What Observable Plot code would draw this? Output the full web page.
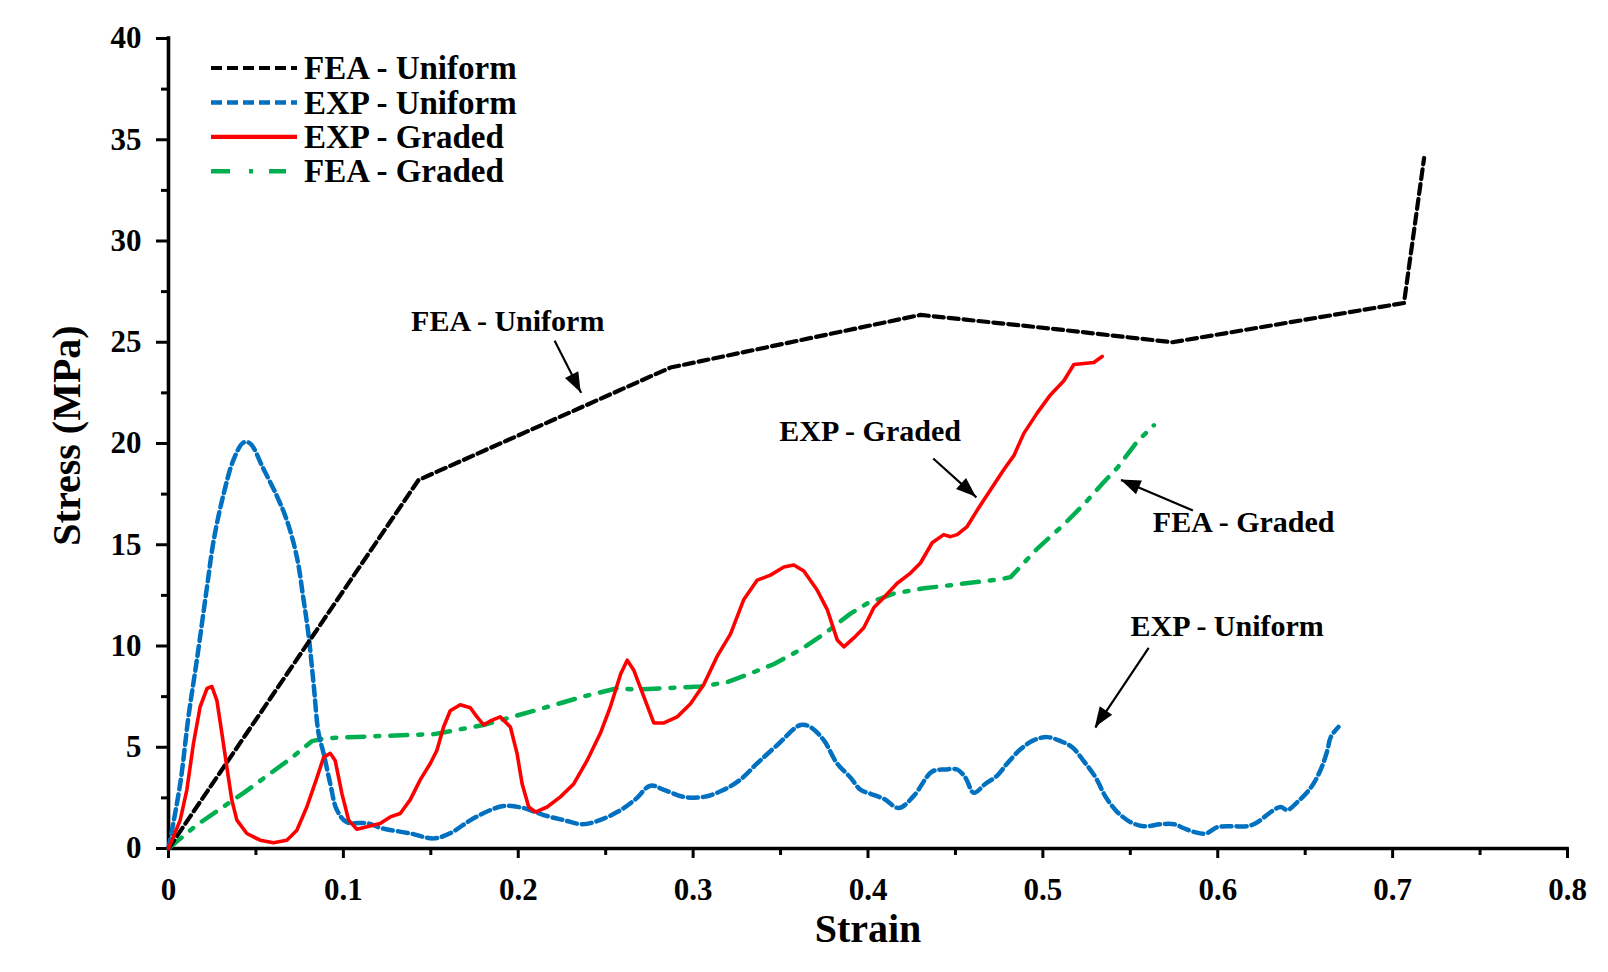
<!DOCTYPE html>
<html>
<head>
<meta charset="utf-8">
<script src="https://cdn.jsdelivr.net/npm/d3@7"></script>
<script src="https://cdn.jsdelivr.net/npm/@observablehq/plot@0.6"></script>
<style>
  html, body { margin: 0; padding: 0; background: #fff; }
  #chart { width: 1608px; height: 972px; }
</style>
</head>
<body>
<div id="chart"></div>
<script>
// ---------- DATA (strain, stress in MPa) ----------
const seriesNames = ["FEA - Uniform", "EXP - Uniform", "EXP - Graded", "FEA - Graded"];

const feaUniform = [
  [0, 0], [0.143, 18.2], [0.287, 23.75], [0.43, 26.35], [0.504, 25.68],
  [0.574, 25.0], [0.7065, 26.94], [0.718, 34.1]
];

const expUniform = [
  [0, 0], [0.0067, 3.2], [0.0114, 6.5], [0.0162, 9.3], [0.022, 12.9], [0.0258, 15.2],
  [0.0315, 17.5], [0.0372, 19.2], [0.0429, 20.05], [0.0467, 20.0], [0.054, 18.8],
  [0.062, 17.4], [0.0677, 16.2], [0.0734, 14.4], [0.0772, 12.3], [0.080, 10.6],
  [0.083, 8.1], [0.0858, 5.7], [0.0887, 4.7], [0.0925, 3.2], [0.0963, 1.9],
  [0.102, 1.3], [0.1135, 1.25], [0.122, 1.0], [0.138, 0.75], [0.1516, 0.5],
  [0.161, 0.75], [0.1727, 1.4], [0.1841, 1.9], [0.1917, 2.1], [0.203, 2.0],
  [0.2145, 1.65], [0.226, 1.4], [0.2366, 1.2], [0.245, 1.35], [0.2566, 1.8],
  [0.2666, 2.4], [0.2756, 3.1], [0.2833, 2.9], [0.2947, 2.55], [0.3061, 2.55],
  [0.3176, 2.9], [0.327, 3.4], [0.3366, 4.2], [0.348, 5.1], [0.3614, 6.1],
  [0.367, 6.0], [0.3747, 5.35], [0.3823, 4.2], [0.39, 3.5], [0.3957, 2.9],
  [0.4015, 2.7], [0.4091, 2.45], [0.4176, 2.0], [0.4262, 2.6], [0.4367, 3.8],
  [0.4443, 3.9], [0.451, 3.9], [0.4557, 3.5], [0.4605, 2.75], [0.4672, 3.2],
  [0.4739, 3.6], [0.4796, 4.2], [0.4872, 4.9], [0.4949, 5.35], [0.5025, 5.5],
  [0.5102, 5.3], [0.5168, 5.0], [0.5235, 4.3], [0.5302, 3.5], [0.5359, 2.55],
  [0.5426, 1.8], [0.5502, 1.3], [0.5578, 1.1], [0.5674, 1.2], [0.575, 1.2],
  [0.5807, 1.0], [0.5864, 0.82], [0.5931, 0.74], [0.5997, 1.05], [0.6074, 1.1],
  [0.6169, 1.1], [0.6227, 1.3], [0.6303, 1.8], [0.636, 2.05], [0.6398, 1.9],
  [0.6456, 2.3], [0.6532, 3.0], [0.6589, 3.9], [0.6627, 4.85], [0.6646, 5.5],
  [0.669, 6.0]
];

const expGraded = [
  [0, 0], [0.0067, 1.4], [0.0105, 2.9], [0.0143, 5.2], [0.0181, 7.0], [0.022, 7.9],
  [0.0248, 8.0], [0.0277, 7.3], [0.0305, 5.7], [0.0334, 4.0], [0.0362, 2.4],
  [0.0391, 1.4], [0.0448, 0.74], [0.0524, 0.41], [0.060, 0.28], [0.0677, 0.41],
  [0.0734, 0.9], [0.0791, 2.05], [0.0849, 3.5], [0.0887, 4.5], [0.0925, 4.7],
  [0.0953, 4.35], [0.0992, 2.7], [0.103, 1.4], [0.1077, 0.95], [0.1135, 1.07],
  [0.121, 1.23], [0.1268, 1.56], [0.1325, 1.73], [0.1382, 2.4], [0.144, 3.4],
  [0.1497, 4.2], [0.1535, 4.85], [0.1573, 6.0], [0.1611, 6.8], [0.1668, 7.1],
  [0.1726, 6.95], [0.1764, 6.5], [0.1802, 6.1], [0.184, 6.3], [0.1897, 6.5],
  [0.1955, 6.0], [0.1993, 4.7], [0.2022, 3.2], [0.206, 2.05], [0.2098, 1.8],
  [0.2165, 2.05], [0.2241, 2.55], [0.2318, 3.2], [0.2394, 4.35], [0.247, 5.7],
  [0.2527, 7.0], [0.2585, 8.6], [0.2623, 9.3], [0.2661, 8.8], [0.2718, 7.5],
  [0.2775, 6.2], [0.2833, 6.2], [0.2909, 6.5], [0.2985, 7.15], [0.3061, 8.1],
  [0.3138, 9.5], [0.3214, 10.6], [0.329, 12.3], [0.3366, 13.25], [0.3442, 13.5],
  [0.3519, 13.9], [0.3576, 14.0], [0.3633, 13.7], [0.371, 12.75], [0.3767, 11.8],
  [0.3824, 10.3], [0.3862, 9.96], [0.3919, 10.4], [0.3976, 10.9], [0.4034, 11.9],
  [0.4091, 12.4], [0.4167, 13.1], [0.4243, 13.6], [0.43, 14.1], [0.4367, 15.1],
  [0.4433, 15.5], [0.4472, 15.4], [0.451, 15.5], [0.4567, 15.9], [0.4624, 16.7],
  [0.47, 17.7], [0.4776, 18.7], [0.4834, 19.4], [0.4891, 20.5], [0.4967, 21.5],
  [0.5043, 22.4], [0.512, 23.1], [0.5177, 23.9], [0.5234, 23.95], [0.5291, 24.0],
  [0.5339, 24.3]
];

const feaGraded = [
  [0, 0], [0.016, 1.15], [0.043, 2.75], [0.07, 4.45], [0.082, 5.3], [0.09, 5.45],
  [0.12, 5.55], [0.152, 5.65], [0.18, 6.1], [0.209, 6.8], [0.237, 7.5], [0.256, 7.9],
  [0.268, 7.85], [0.304, 8.0], [0.319, 8.2], [0.333, 8.65], [0.346, 9.1], [0.361, 9.8],
  [0.375, 10.6], [0.39, 11.6], [0.3995, 12.1], [0.415, 12.6], [0.432, 12.85],
  [0.447, 13.0], [0.476, 13.3], [0.4815, 13.4], [0.4891, 14.1], [0.4967, 14.8],
  [0.512, 16.0], [0.5235, 17.0], [0.5349, 18.1], [0.5426, 18.8], [0.554, 20.1],
  [0.5635, 20.9]
];

const xTicks = [0, 0.1, 0.2, 0.3, 0.4, 0.5, 0.6, 0.7, 0.8];
const xMinorTicks = [0.05, 0.15, 0.25, 0.35, 0.45, 0.55, 0.65, 0.75];
const yTicks = [0, 5, 10, 15, 20, 25, 30, 35, 40];
const yMinorTicks = [2.5, 7.5, 12.5, 17.5, 22.5, 27.5, 32.5, 37.5];

const annotations = [
  { text: "FEA - Uniform", x: 0.194, y: 26.04 },
  { text: "EXP - Graded", x: 0.4012, y: 20.58 },
  { text: "FEA - Graded", x: 0.6148, y: 16.08 },
  { text: "EXP - Uniform", x: 0.6054, y: 10.98 }
];

const arrows = [
  { x1: 0.2208, y1: 25.08, x2: 0.2360, y2: 22.5 },
  { x1: 0.4373, y1: 19.26, x2: 0.4620, y2: 17.34 },
  { x1: 0.5858, y1: 16.69, x2: 0.5447, y2: 18.2 },
  { x1: 0.5605, y1: 9.91, x2: 0.5300, y2: 5.97 }
];

// ---------- STYLE ----------
const FONT = "'Liberation Serif', 'Times New Roman', Times, serif";
const colors = { feaU: "#000000", expU: "#0070C0", expG: "#FF0000", feaG: "#00B050" };
const rows = (pts) => pts.map(([x, y]) => ({ x, y }));
const fmt = (d) => String(+(+d).toFixed(2));

const chart = Plot.plot({
  width: 1608,
  height: 972,
  marginLeft: 168,
  marginRight: 41,
  marginTop: 38,
  marginBottom: 124,
  x: { domain: [0, 0.8] },
  y: { domain: [0, 40] },
  style: { fontFamily: FONT, background: "#fff", color: "#000", overflow: "visible" },
  marks: [
    Plot.axisX({ ticks: xMinorTicks, tickSize: 7, strokeWidth: 3, tickFormat: () => "", label: null }),
    Plot.axisX({
      ticks: xTicks, tickSize: 10, tickPadding: 19, strokeWidth: 3,
      fontSize: 31, fontWeight: "bold", fontFamily: FONT, tickFormat: fmt, label: null
    }),
    Plot.axisY({ ticks: yMinorTicks, tickSize: 7, strokeWidth: 3, tickFormat: () => "", label: null }),
    Plot.axisY({
      ticks: yTicks, tickSize: 12, tickPadding: 15, strokeWidth: 3,
      fontSize: 31, fontWeight: "bold", fontFamily: FONT, tickFormat: fmt, label: null
    }),
    Plot.ruleY([0], { stroke: "#000", strokeWidth: 3.6, strokeLinecap: "square" }),
    Plot.ruleX([0], { stroke: "#000", strokeWidth: 3.6, strokeLinecap: "square" }),

    Plot.line(rows(feaGraded), { x: "x", y: "y", stroke: colors.feaG, strokeWidth: 4.5, strokeDasharray: "17,11,4,11" }),
    Plot.line(rows(expUniform), { x: "x", y: "y", stroke: colors.expU, strokeWidth: 4.5, strokeDasharray: "10,5", curve: "catmull-rom" }),
    Plot.line(rows(feaUniform), { x: "x", y: "y", stroke: colors.feaU, strokeWidth: 4.2, strokeDasharray: "10,5" }),
    Plot.line(rows(expGraded), { x: "x", y: "y", stroke: colors.expG, strokeWidth: 3.6, strokeLinejoin: "round" }),

    Plot.link(arrows, { x1: "x1", y1: "y1", x2: "x2", y2: "y2", stroke: "#000", strokeWidth: 2.2 }),
    Plot.text(annotations, {
      x: "x", y: "y", text: "text", fontSize: 30, fontWeight: "bold",
      fontFamily: FONT, textAnchor: "middle", lineAnchor: "middle", fill: "#000"
    }),

    Plot.text(["Strain"], {
      text: (d) => d, frameAnchor: "bottom", dy: 81, textAnchor: "middle", lineAnchor: "middle",
      fontSize: 40, fontWeight: "bold", fontFamily: FONT, fill: "#000"
    }),
    Plot.text(["Stress (MPa)"], {
      text: (d) => d, frameAnchor: "left", rotate: -90, dx: -101, dy: -8,
      textAnchor: "middle", lineAnchor: "middle",
      fontSize: 40, fontWeight: "bold", fontFamily: FONT, fill: "#000"
    })
  ]
});

document.getElementById("chart").appendChild(chart);

// ---------- arrowheads (filled), positioned through Plot's scales ----------
const svg = d3.select(chart);
const sx = chart.scale("x"), sy = chart.scale("y");
const heads = svg.append("g").attr("fill", "#000");
for (const a of arrows) {
  const tx = sx.apply(a.x2), ty = sy.apply(a.y2);
  const fx = sx.apply(a.x1), fy = sy.apply(a.y1);
  const dx = tx - fx, dy = ty - fy, len = Math.hypot(dx, dy);
  const ux = dx / len, uy = dy / len;
  const L = 20, W = 7.5;
  const bx = tx - ux * L, by = ty - uy * L;
  heads.append("polygon")
    .attr("points", `${tx},${ty} ${bx - uy * W},${by + ux * W} ${bx + uy * W},${by - ux * W}`);
}

// ---------- legend (top-left inside the frame) ----------
const legendItems = [
  { name: seriesNames[0], color: colors.feaU, dash: "11,5", width: 4.2, x2: 297 },
  { name: seriesNames[1], color: colors.expU, dash: "11,5", width: 4.5, x2: 297 },
  { name: seriesNames[2], color: colors.expG, dash: null, width: 4.2, x2: 297 },
  { name: seriesNames[3], color: colors.feaG, dash: "19,19,4,16", width: 4.5, x2: 286 }
];
const lg = svg.append("g").attr("text-anchor", "start");
legendItems.forEach((it, i) => {
  const y = 68 + i * 34.4;
  const ln = lg.append("line")
    .attr("x1", 211).attr("x2", it.x2).attr("y1", y).attr("y2", y)
    .attr("stroke", it.color).attr("stroke-width", it.width);
  if (it.dash) ln.attr("stroke-dasharray", it.dash);
  lg.append("text")
    .attr("x", 304).attr("y", y).attr("dy", "0.34em")
    .attr("text-anchor", "start")
    .attr("font-family", FONT).attr("font-size", 33).attr("font-weight", "bold")
    .attr("fill", "#000")
    .text(it.name);
});
</script>
</body>
</html>
